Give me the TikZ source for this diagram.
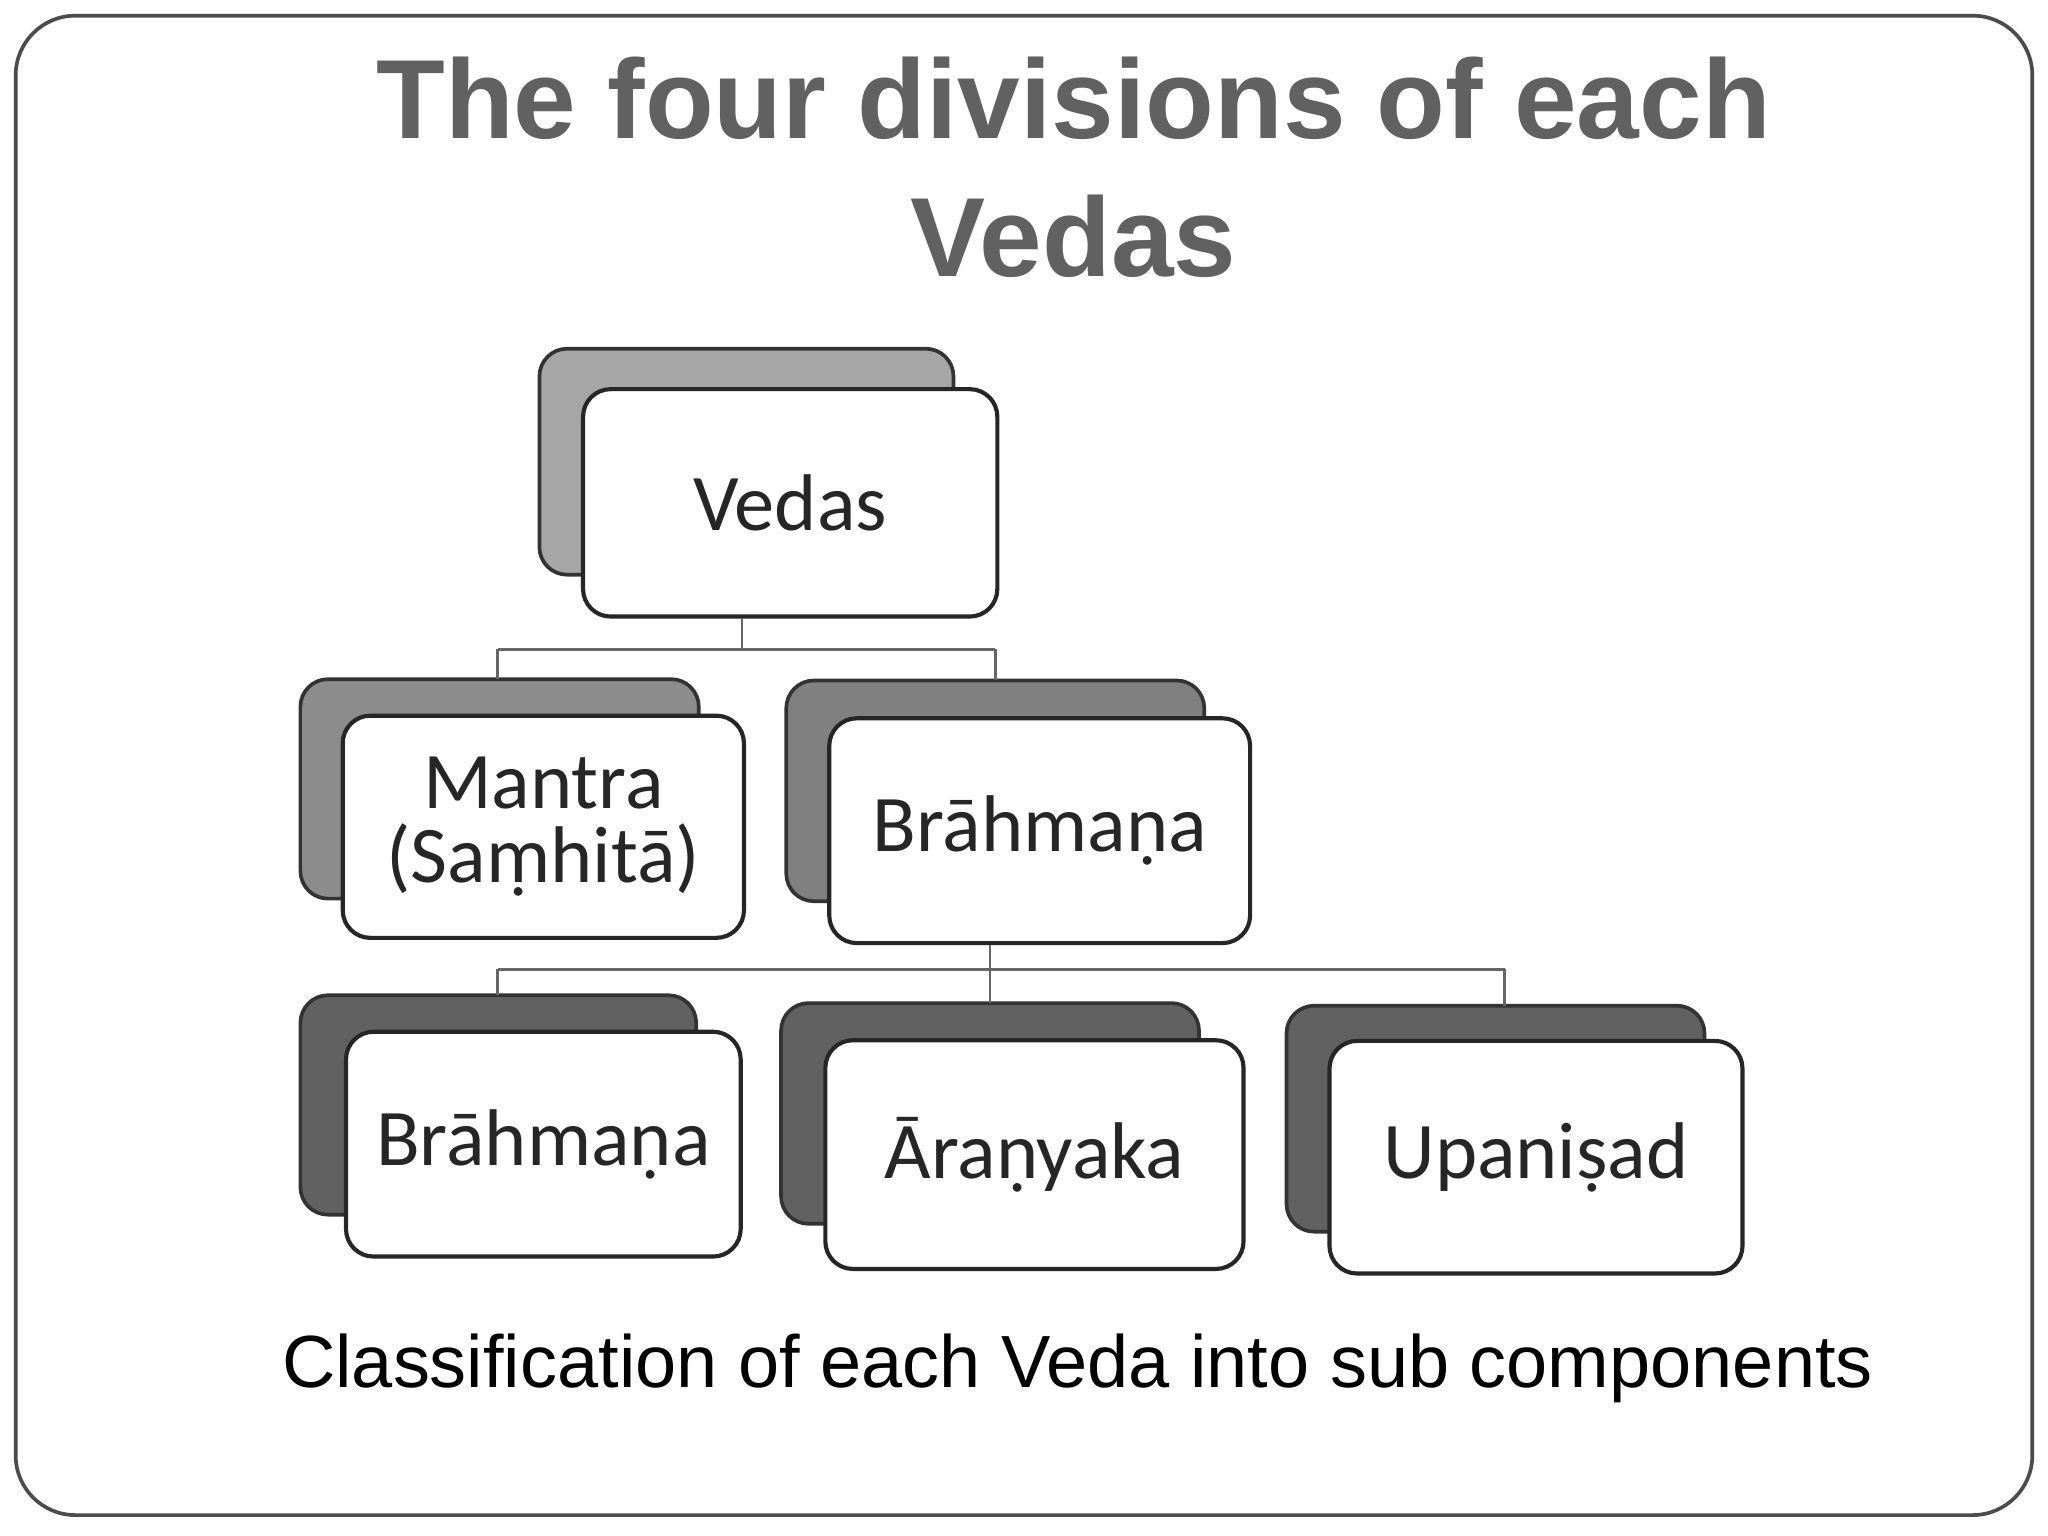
\documentclass[tikz,border=0pt]{standalone}
\usepackage{fontspec}
\setmainfont{Liberation Sans}
\newfontfamily\boxfont{Carlito}
\begin{document}
\begin{tikzpicture}[x=0.01cm,y=-0.01cm,
  backbox/.style={draw=black!80,line width=0.8pt,rounded corners=6pt},
  frontbox/.style={draw=black!85,line width=0.9pt,fill=white,rounded corners=6pt,font=\boxfont\fontsize{17.5}{16}\selectfont,align=center,text=black!85},
  conn/.style={draw=black!60,line width=0.6pt}]
\useasboundingbox (0,0) rectangle (1568,1176);
\fill[white] (0,0) rectangle (1568,1176);
\draw[black!70,line width=0.8pt,rounded corners=13pt] (12,12) rectangle (1556,1160);
\node[font=\bfseries\fontsize{24.5}{30}\selectfont,text=black!62,align=center] (title) at (822,128) {The four divisions of each\\Vedas};
% back boxes
\draw[backbox,fill=black!35] (413,267) rectangle (730,440);
\draw[backbox,fill=black!45] (230,520) rectangle (535,688);
\draw[backbox,fill=black!50] (602,521) rectangle (922,690);
\draw[backbox,fill=black!62] (230,762) rectangle (533,930);
\draw[backbox,fill=black!62] (598,768) rectangle (918,937);
\draw[backbox,fill=black!62] (985,770) rectangle (1305,943);
% front boxes
\node[frontbox,minimum width=3.17cm,minimum height=1.74cm] (vedas) at (605,385) {Vedas};
\node[frontbox,minimum width=3.07cm,minimum height=1.70cm] (mantra) at (416,633) {Mantra\\(Saṃhitā)};
\node[frontbox,minimum width=3.22cm,minimum height=1.72cm] (brm) at (796,636) {Brāhmaṇa};
\node[frontbox,minimum width=3.02cm,minimum height=1.72cm] (br) at (416,876) {Brāhmaṇa};
\node[frontbox,minimum width=3.20cm,minimum height=1.75cm] (ar) at (792,884) {Āraṇyaka};
\node[frontbox,minimum width=3.16cm,minimum height=1.78cm] (up) at (1176,886) {Upaniṣad};
% connectors
\coordinate (j1) at (568,497);
\coordinate (j2) at (758,742);
\draw[conn] (vedas.south -| j1) -- (j1);
\draw[conn] (381,497) -- (762,497);
\draw[conn] (381,497) -- (381,520);
\draw[conn] (762,497) -- (762,521);
\draw[conn] (brm.south -| j2) -- (j2);
\draw[conn] (381,742) -- (1152,742);
\draw[conn] (381,742) -- (381,762);
\draw[conn] (758,742) -- (758,768);
\draw[conn] (1152,742) -- (1152,770);
\node[font=\fontsize{16.1}{20}\selectfont] (cap) at (825,1048) {Classification of each Veda into sub components};
\end{tikzpicture}
\end{document}
